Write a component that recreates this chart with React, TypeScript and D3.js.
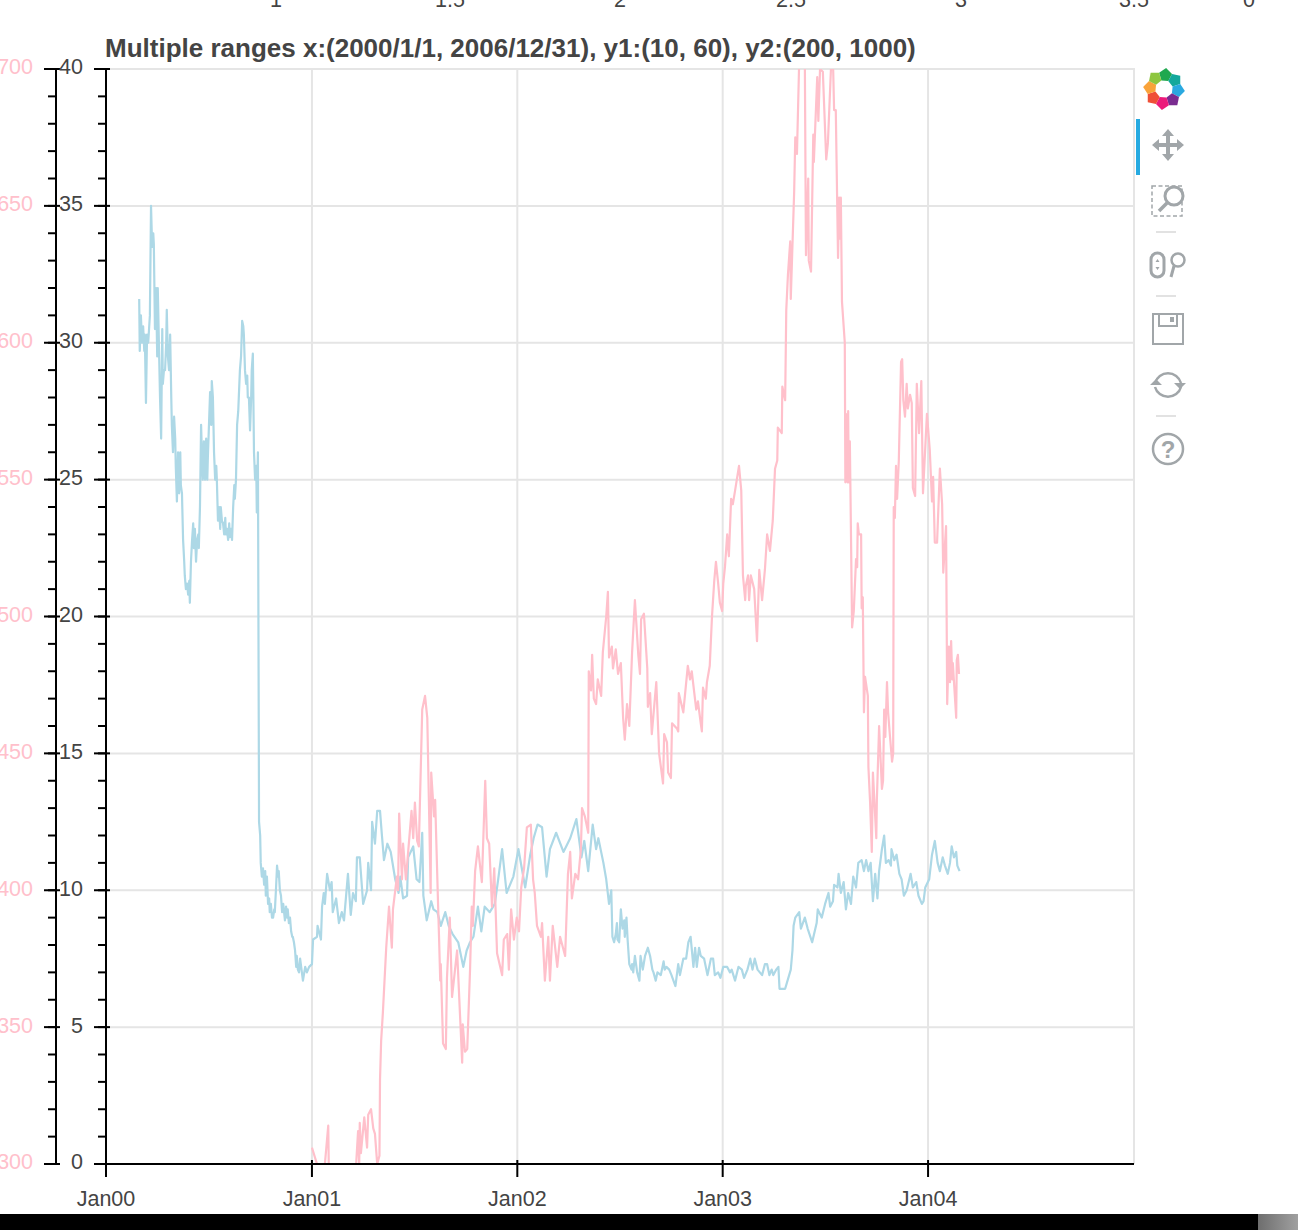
import { useEffect, useRef } from 'react';
import * as d3 from 'd3';

// [days since 2000-01-01, price]
const bluePoints: [number, number][] = [
  [59, 31.6], [60, 29.7], [62, 31], [64, 30], [66, 30.6], [68, 29.7], [69, 30.3], [71, 27.8], [73, 30.3], [75, 30], [78, 31], [80, 35], [82, 33.5], [84, 34], [85, 33.6], [87, 30.5], [89, 32], [91, 29.5], [92, 32], [94, 30], [96, 28], [98, 26.5], [100, 30.5], [101, 28.5], [103, 29], [105, 29], [107, 30], [108, 31.2], [110, 29.5], [112, 29], [114, 30.3], [116, 28], [117, 27], [119, 26], [121, 27.3], [123, 26.5], [124, 25.5], [126, 24.2], [128, 26], [130, 24.5], [132, 26], [133, 24.8], [135, 24.5], [137, 22.8], [139, 22], [140, 21.5], [142, 21], [144, 21.2], [146, 20.8], [148, 21.3], [149, 20.5], [151, 22], [153, 22.8], [155, 23.4], [156, 22.5], [158, 23.2], [160, 22], [162, 22.8], [164, 23], [165, 22.5], [167, 24], [169, 27], [171, 25.5], [172, 25], [174, 26.4], [176, 25], [178, 26.5], [180, 25], [181, 25.8], [183, 27], [185, 28.2], [187, 27], [188, 28.6], [190, 28], [192, 26], [194, 25], [196, 25.5], [197, 25], [199, 23.5], [201, 24], [203, 23.2], [204, 24], [206, 23.5], [208, 23.4], [210, 23], [212, 23.6], [213, 23], [215, 23.2], [217, 22.8], [219, 23.4], [220, 22.9], [222, 23.2], [224, 22.8], [226, 24], [228, 24.8], [229, 24.3], [231, 25], [233, 27], [235, 27.5], [236, 28], [238, 29], [240, 29.5], [242, 30.8], [244, 30.6], [245, 30.3], [247, 29], [249, 28.5], [251, 28.8], [252, 28], [254, 28], [256, 26.8], [258, 28], [259, 29], [261, 29.6], [263, 26], [265, 25], [267, 25.5], [268, 23.8], [270, 26], [272, 12.5],
  [274, 12], [275, 11], [277, 10.5], [279, 10.8], [281, 10.2], [283, 10.7], [284, 9.8], [286, 10.5], [288, 9.5], [290, 9.7], [291, 9.2], [293, 9.5], [295, 9], [297, 9], [299, 9.3], [300, 9.2], [302, 10], [304, 10.9], [306, 10.5], [307, 10.7], [309, 10], [311, 9.8], [313, 9.2], [315, 9.5], [316, 9.3], [318, 8.9], [320, 9.4], [322, 9], [323, 9.3], [325, 8.8], [327, 9], [329, 8.5], [331, 8.3], [332, 8.3], [334, 8.1], [336, 7.8], [338, 7.2], [339, 7.6], [341, 7.1], [343, 7], [345, 7.5], [350, 6.7], [354, 7.2], [357, 7], [361, 7.2], [366, 7.3],
  [368, 8.2], [375, 8.3], [376, 8.7], [382, 8.2], [384, 9.4], [387, 9.9], [389, 9.5], [393, 10.6], [398, 10], [401, 10.3], [403, 9.2], [409, 9.7], [414, 8.8], [419, 9.2], [423, 8.9], [430, 10.6], [435, 9.1], [439, 9.9], [444, 9.6], [446, 11.2], [451, 11.2], [457, 9.5], [464, 10], [466, 11], [471, 10], [473, 12.5], [478, 11.7], [482, 12.9], [487, 12.9], [490, 12.1], [494, 11.1], [500, 11.7], [506, 11.4], [514, 10.4], [520, 9.9], [523, 10.5], [528, 9.7], [535, 9.8], [537, 11.2], [546, 11.6], [552, 10.4], [557, 10.3], [562, 12.1], [564, 9.8], [570, 8.9], [578, 9.6], [582, 9.3], [589, 9.2], [595, 8.7], [603, 9.2], [609, 8.7], [616, 8.4], [626, 8.1], [635, 7.2], [641, 7.8], [647, 8.1], [653, 8.3], [661, 9.4], [667, 8.5], [673, 9.4], [682, 9.2], [691, 9.5], [697, 10.4], [704, 11.5], [712, 9.9], [724, 10.5], [733, 11.5], [745, 10.1], [754, 11.3], [760, 11.9], [767, 12.4], [775, 12.3], [783, 10.5], [789, 11.5], [800, 12.1], [813, 11.4], [825, 11.9], [836, 12.6], [845, 11.2], [850, 11.8], [857, 10.7], [865, 12.4], [871, 11.5], [875, 11.9], [884, 11],
  [889, 10.4], [894, 9.5], [898, 10], [900, 8.3], [903, 8.1], [906, 8.4], [908, 8.8], [909, 8.2], [912, 8.1], [915, 9.3], [918, 8.6], [921, 8.9], [922, 8.3], [925, 9], [927, 8.2], [930, 7.3], [934, 7.1], [935, 7.3], [937, 7], [940, 7.6], [944, 7], [948, 6.7], [950, 7.6], [954, 7.1], [958, 7.6], [963, 7.9], [967, 7.6], [971, 7.1], [973, 7], [977, 6.7], [980, 7], [986, 6.9], [991, 7.4], [993, 7.1], [996, 7.2], [1001, 7.1], [1005, 6.9], [1012, 6.5], [1017, 7.3], [1020, 6.9], [1026, 7.5], [1031, 7.5], [1035, 8.1], [1039, 8.3], [1044, 7.2], [1047, 7.9], [1050, 7.2], [1054, 7.9], [1057, 7.6], [1063, 7.5], [1069, 6.9], [1075, 7.5], [1079, 7.5], [1082, 6.9], [1088, 7], [1092, 6.8], [1097, 7.2], [1104, 7.2], [1109, 7], [1112, 7.1], [1118, 6.7], [1124, 7.2], [1130, 7.1], [1134, 6.8], [1140, 7.1], [1145, 7.5], [1149, 7.1], [1153, 7.5], [1158, 7.1], [1162, 7], [1166, 6.9], [1171, 7.3], [1175, 7.3], [1179, 6.9], [1183, 7.1], [1186, 6.9], [1191, 7.1], [1195, 7.2], [1197, 6.4], [1201, 6.4], [1207, 6.4], [1217, 7.1],
  [1220, 7.8], [1222, 8.7], [1225, 9], [1232, 9.2], [1235, 8.6], [1242, 9], [1247, 8.6], [1255, 8.1], [1263, 8.8], [1265, 9.3], [1272, 9], [1278, 9.5], [1284, 9.9], [1287, 9.4], [1292, 9.6], [1294, 10.2], [1300, 10.1], [1302, 10.6], [1306, 9.9], [1311, 10.3], [1315, 9.3], [1319, 9.9], [1324, 9.5], [1328, 10.5], [1333, 10.1], [1337, 11], [1343, 11.1], [1347, 10.7], [1351, 11.1], [1355, 10.7], [1359, 11], [1363, 9.6], [1367, 10.6], [1371, 9.7], [1374, 10.7], [1379, 11.5], [1383, 12], [1386, 11], [1391, 11.1], [1395, 10.9], [1396, 11.5], [1401, 11.1], [1405, 11.3], [1410, 10.6], [1414, 10.4], [1418, 9.8], [1423, 10], [1430, 10.6], [1434, 10.1], [1440, 10.3], [1444, 9.8], [1450, 9.5], [1453, 9.6], [1456, 10.1], [1463, 10.4], [1468, 11.3], [1473, 11.8], [1478, 11], [1482, 10.7], [1487, 11.2], [1491, 10.9], [1496, 10.6], [1500, 11], [1503, 11.6], [1507, 11.2], [1511, 11.4], [1513, 10.9], [1517, 10.7],
];

const pinkPoints: [number, number][] = [
  [366, 306], [375, 300], [380, 294], [389, 300], [395, 314], [396, 298], [416, 290], [444, 298], [448, 312], [450, 300], [451, 315], [453, 304], [459, 317], [464, 306], [466, 318], [471, 320], [475, 313], [478, 311], [482, 300], [486, 303], [487, 331], [489, 345], [492, 355], [498, 379], [503, 394], [508, 379], [510, 393], [517, 405], [519, 400], [521, 428], [526, 404], [528, 417], [533, 404], [543, 429], [546, 419], [549, 432], [553, 418], [556, 416], [562, 466], [567, 471], [571, 463], [577, 399], [578, 443], [583, 427], [585, 433], [590, 396], [592, 382], [594, 367], [595, 373], [599, 344], [604, 342], [606, 368], [611, 390], [615, 361], [624, 378], [633, 337], [634, 351], [638, 341], [642, 342], [647, 371], [650, 394], [652, 387], [656, 407], [661, 416], [668, 403], [674, 440], [677, 419], [681, 417],
  [686, 394], [690, 408], [695, 377], [704, 369], [707, 382], [713, 384], [716, 371], [720, 393], [725, 382], [730, 390], [734, 385], [738, 401], [743, 408], [748, 423], [755, 424], [759, 404], [762, 399], [766, 387], [773, 383], [775, 388], [780, 367], [786, 383], [789, 367], [794, 387], [802, 372], [807, 383], [816, 376], [821, 406], [825, 414], [828, 397], [834, 406], [839, 404], [844, 415], [846, 430], [851, 427], [857, 421], [858, 480],
  [862, 473], [864, 486], [867, 470], [871, 468], [874, 477], [880, 471], [883, 487], [889, 500], [892, 509], [894, 485], [899, 489], [901, 481], [906, 488], [910, 479], [915, 483], [919, 463], [922, 455], [926, 468], [930, 460], [935, 487], [940, 506], [946, 486], [949, 479], [951, 499], [956, 501], [962, 481], [963, 467], [967, 472], [970, 457], [978, 476], [983, 450], [990, 439], [992, 457], [997, 454], [999, 443], [1004, 441], [1006, 461], [1015, 459], [1017, 458], [1018, 472], [1026, 465], [1034, 482], [1038, 477], [1041, 480], [1049, 466], [1052, 469], [1057, 461], [1059, 458], [1061, 474], [1066, 470], [1068, 476], [1073, 482], [1077, 500], [1081, 513], [1084, 520], [1088, 512], [1091, 505], [1095, 502], [1097, 512], [1100, 518], [1104, 530], [1107, 522], [1111, 543], [1114, 541], [1118, 546], [1125, 555], [1129, 546], [1132, 515], [1136, 506], [1137, 511], [1141, 515], [1143, 506], [1146, 515], [1152, 510], [1157, 491], [1161, 517], [1166, 506], [1171, 517], [1175, 530], [1180, 524], [1185, 535], [1189, 554], [1193, 557], [1194, 569], [1201, 567], [1202, 584], [1207, 579], [1209, 612], [1212, 625], [1216, 637], [1217, 616], [1223, 655], [1225, 675], [1228, 669], [1232, 703], [1239, 709], [1242, 703], [1244, 632], [1248, 660], [1249, 630], [1253, 626], [1257, 676], [1258, 666], [1264, 697], [1266, 681], [1269, 700], [1274, 699], [1280, 667], [1283, 673], [1289, 703], [1292, 703], [1294, 685], [1297, 685], [1301, 631], [1303, 653], [1305, 638], [1306, 653], [1308, 615], [1313, 600],
  [1314, 549], [1315, 574], [1318, 549], [1319, 575], [1320, 549], [1322, 564], [1326, 496], [1329, 502], [1333, 521], [1335, 518], [1336, 534], [1338, 530], [1342, 530], [1343, 503], [1345, 507], [1347, 465], [1349, 478], [1354, 471], [1355, 445], [1358, 432], [1361, 414], [1363, 443], [1369, 419], [1370, 433], [1374, 460], [1379, 437], [1381, 440], [1383, 466], [1385, 456], [1388, 476], [1390, 465], [1393, 457], [1397, 447], [1399, 450], [1400, 540], [1402, 536], [1404, 555], [1406, 543], [1409, 557], [1413, 593], [1415, 594], [1417, 579], [1420, 573], [1423, 585], [1425, 576], [1429, 581], [1432, 578], [1434, 547], [1438, 544], [1441, 585], [1445, 567], [1449, 586], [1452, 545], [1459, 574], [1464, 561], [1468, 542], [1470, 551], [1473, 527], [1477, 527], [1482, 554], [1486, 541], [1488, 516], [1493, 533], [1495, 468], [1498, 489], [1500, 476], [1502, 491], [1504, 477], [1505, 483], [1511, 463], [1512, 484], [1514, 486], [1516, 479],
];

const xTickDates = [new Date(Date.UTC(2000, 0, 1)), new Date(Date.UTC(2001, 0, 1)), new Date(Date.UTC(2002, 0, 1)), new Date(Date.UTC(2003, 0, 1)), new Date(Date.UTC(2004, 0, 1))];
const xTickLabels = ['Jan00', 'Jan01', 'Jan02', 'Jan03', 'Jan04'];
const blueTicks = [0, 5, 10, 15, 20, 25, 30, 35, 40];
const blueMinorTicks = d3.range(0, 41);
const pinkTicks = [300, 350, 400, 450, 500, 550, 600, 650, 700];
const pinkMinorTicks = d3.range(300, 701, 10);
const strayTopLabels: [string, number][] = [['1', 276], ['1.5', 450], ['2', 620], ['2.5', 791], ['3', 961], ['3.5', 1134], ['0', 1249]];
const logoColors = ['#1fa84f', '#14a89c', '#2aa9e0', '#7a2c90', '#ec1a7b', '#ef4f37', '#f9a33a', '#8dc63f'];

const TITLE = 'Multiple ranges x:(2000/1/1, 2006/12/31), y1:(10, 60), y2:(200, 1000)';
const FONT = '"Liberation Sans", Arial, sans-serif';
const TEXT = '#444444';
const GRID = '#e5e5e5';
const ICON = '#a1a6a9';
const TICK_FONT_SIZE = 21.5;

const margin = { top: 69, left: 106, right: 1134, bottom: 1164 };

const dayToDate = (d: number) => new Date(Date.UTC(2000, 0, 1 + d));

function Toolbar() {
  const ref = useRef<SVGGElement>(null);
  useEffect(() => {
    if (!ref.current) return;
    const g = d3.select(ref.current);
    g.selectAll('*').remove();
    const step = Math.PI / 4;
    const petal = d3.lineRadial<[number, number]>()
      .angle((d) => d[0])
      .radius((d) => d[1])
      .curve(d3.curveLinearClosed);
    g.append('g')
      .attr('transform', 'translate(1164,89)')
      .selectAll('path')
      .data(d3.range(8))
      .join('path')
      .attr('fill', (i) => logoColors[i])
      .attr('d', (i) => {
        const a = i * step + 0.1;
        return petal([[a - step / 2, 9], [a - step / 2, 17], [a, 21], [a + step / 2, 17], [a + step / 2, 9]]);
      });
  }, []);

  const stroke = { fill: 'none', stroke: ICON, strokeWidth: 2.5 };
  return (
    <g>
      <g ref={ref} />
      <rect x={1136} y={119} width={4} height={56} fill="#26aae1" />
      {/* pan */}
      <g transform="translate(1168,145)" fill={ICON}>
        <rect x={-12} y={-2} width={24} height={4} />
        <rect x={-2} y={-12} width={4} height={24} />
        <path d="M-16,0 L-9,-6 L-9,6 Z M16,0 L9,-6 L9,6 Z M0,-16 L-6,-9 L6,-9 Z M0,16 L-6,9 L6,9 Z" />
      </g>
      {/* box zoom */}
      <rect x={1152} y={186} width={30} height={30} {...stroke} strokeWidth={1.5} strokeDasharray="4 2.5" />
      <circle cx={1174} cy={196} r={9} fill="#fff" stroke={ICON} strokeWidth={3} />
      <line x1={1167} y1={203} x2={1159} y2={211} {...stroke} strokeWidth={3.5} />
      <line x1={1156} y1={232} x2={1176} y2={232} stroke="#d8d8d8" strokeWidth={1.5} />
      {/* wheel zoom */}
      <rect x={1151} y={253} width={13} height={24} rx={6.5} {...stroke} strokeWidth={3} />
      <path d="M1157.5,259 l-2,3 h4 Z M1157.5,270 l-2,-3 h4 Z" fill={ICON} />
      <circle cx={1178} cy={260} r={6.5} {...stroke} />
      <line x1={1174} y1={266} x2={1171} y2={277} {...stroke} strokeWidth={3} />
      <line x1={1156} y1={296} x2={1176} y2={296} stroke="#d8d8d8" strokeWidth={1.5} />
      {/* save */}
      <rect x={1153} y={314} width={30} height={30} {...stroke} strokeWidth={2} />
      <path d="M1159,314 V326 H1177 V314" {...stroke} strokeWidth={2} />
      <rect x={1170} y={317} width={4} height={5} fill={ICON} />
      {/* reset */}
      <path d="M1155,383 A13.5,13.5 0 0 1 1181,383" {...stroke} />
      <path d="M1155,387 A13.5,13.5 0 0 0 1181,387" {...stroke} />
      <path d="M1174,383 L1186,383 L1180,389 Z M1150,385 L1162,385 L1156,379 Z" fill={ICON} />
      <line x1={1156} y1={416} x2={1176} y2={416} stroke="#d8d8d8" strokeWidth={1.5} />
      {/* help */}
      <circle cx={1168} cy={449} r={15} {...stroke} />
      <text x={1168} y={458} textAnchor="middle" fontFamily={FONT} fontWeight="bold" fontSize={24} fill={ICON}>?</text>
    </g>
  );
}

export default function App() {
  const svgRef = useRef<SVGSVGElement>(null);

  useEffect(() => {
    if (!svgRef.current) return;
    const svg = d3.select(svgRef.current).select<SVGGElement>('g.chart');
    svg.selectAll('*').remove();

    const x = d3.scaleUtc()
      .domain([new Date(Date.UTC(2000, 0, 1)), new Date(Date.UTC(2005, 0, 1))])
      .range([margin.left, margin.right]);
    const yBlue = d3.scaleLinear().domain([0, 40]).range([margin.bottom, margin.top]);
    const yPink = d3.scaleLinear().domain([300, 700]).range([margin.bottom, margin.top]);

    // grid
    const grid = svg.append('g').attr('stroke', GRID).attr('stroke-width', 2);
    grid.selectAll('line.h')
      .data(blueTicks.slice(1))
      .join('line')
      .attr('class', 'h')
      .attr('x1', margin.left)
      .attr('x2', margin.right)
      .attr('y1', (d) => yBlue(d))
      .attr('y2', (d) => yBlue(d));
    grid.selectAll('line.v')
      .data(xTickDates.slice(1))
      .join('line')
      .attr('class', 'v')
      .attr('x1', (d) => x(d))
      .attr('x2', (d) => x(d))
      .attr('y1', margin.top)
      .attr('y2', margin.bottom);
    grid.append('line')
      .attr('x1', margin.right)
      .attr('x2', margin.right)
      .attr('y1', margin.top - 1)
      .attr('y2', margin.bottom);

    // series
    const plot = svg.append('g').attr('clip-path', 'url(#plot-clip)');
    const lineBlue = d3.line<[number, number]>()
      .x((d) => x(dayToDate(d[0])))
      .y((d) => yBlue(d[1]));
    const linePink = d3.line<[number, number]>()
      .x((d) => x(dayToDate(d[0])))
      .y((d) => yPink(d[1]));
    plot.append('path')
      .datum(bluePoints)
      .attr('fill', 'none')
      .attr('stroke', '#add8e6')
      .attr('stroke-width', 2.2)
      .attr('stroke-linejoin', 'round')
      .attr('d', lineBlue);
    plot.append('path')
      .datum(pinkPoints)
      .attr('fill', 'none')
      .attr('stroke', '#ffc0cb')
      .attr('stroke-width', 2.2)
      .attr('stroke-linejoin', 'round')
      .attr('d', linePink);

    // left axes, major ticks poke 4px into the plot side
    const styleAxis = (
      g: d3.Selection<SVGGElement, unknown, null, undefined>,
      color: string
    ) => {
      g.selectAll('.domain').attr('stroke', '#000').attr('stroke-width', 2);
      g.selectAll('.tick line').attr('stroke', '#000').attr('stroke-width', 2);
      g.selectAll('.tick text')
        .attr('fill', color)
        .style('font-family', FONT)
        .style('font-size', `${TICK_FONT_SIZE}px`);
    };

    const addLeftAxis = (
      left: number,
      scale: d3.ScaleLinear<number, number>,
      major: number[],
      minor: number[],
      color: string
    ) => {
      const minorG = svg.append('g').attr('transform', `translate(${left},0)`);
      minorG.call(d3.axisLeft(scale).tickValues(minor).tickSize(8).tickSizeOuter(0).offset(0).tickFormat(() => ''));
      styleAxis(minorG, color);
      const majorG = svg.append('g').attr('transform', `translate(${left},0)`);
      majorG.call(d3.axisLeft(scale).tickValues(major).tickSize(12).tickSizeOuter(0).offset(0).tickPadding(11));
      styleAxis(majorG, color);
      majorG.selectAll('.tick line').attr('x2', -12).attr('x1', 4);
      majorG.selectAll('.tick text').attr('y', -1.5);
      majorG.selectAll('.domain').remove();
    };

    addLeftAxis(56, yPink, pinkTicks, pinkMinorTicks, '#ffc0cb');
    addLeftAxis(106, yBlue, blueTicks, blueMinorTicks, TEXT);

    const bottom = svg.append('g').attr('transform', `translate(0,${margin.bottom})`);
    bottom.call(
      d3.axisBottom(x)
        .tickValues(xTickDates)
        .tickSize(13)
        .tickSizeOuter(0)
        .offset(0)
        .tickPadding(14)
        .tickFormat((_, i) => xTickLabels[i])
    );
    styleAxis(bottom, TEXT);
    bottom.selectAll('.tick line').attr('y1', -4);
  }, []);

  return (
    <svg
      ref={svgRef}
      width={1298}
      height={1230}
      style={{ position: 'absolute', left: 0, top: 0, display: 'block', background: '#fff' }}
    >
      <defs>
        <clipPath id="plot-clip">
          <rect x={margin.left} y={margin.top} width={margin.right - margin.left} height={margin.bottom - margin.top} />
        </clipPath>
        <linearGradient id="corner" x1="0" x2="1" y1="0" y2="0">
          <stop offset="0" stopColor="#6e6e6e" />
          <stop offset="1" stopColor="#a0a0a0" />
        </linearGradient>
      </defs>
      {strayTopLabels.map(([label, x]) => (
        <text key={x} x={x} y={7} textAnchor="middle" fontFamily={FONT} fontSize={TICK_FONT_SIZE} fill={TEXT}>{label}</text>
      ))}
      <text x={105} y={57} fontFamily={FONT} fontWeight="bold" fontSize={26} fill={TEXT}>{TITLE}</text>
      <g className="chart" />
      <Toolbar />
      <rect x={0} y={1214} width={1258} height={16} fill="#000" />
      <rect x={1258} y={1214} width={40} height={16} fill="url(#corner)" />
    </svg>
  );
}
